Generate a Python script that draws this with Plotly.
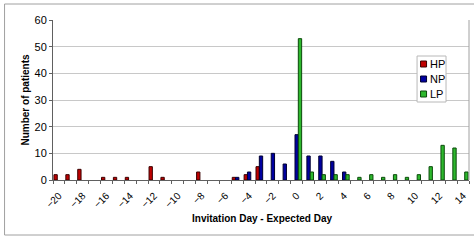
import plotly.graph_objects as go

days = list(range(-20, 15))

hp_vals = {-20: 2, -19: 2, -18: 4, -16: 1, -15: 1, -14: 1, -12: 5, -11: 1,
           -8: 3, -5: 1, -4: 2, -3: 5}
np_vals = {-5: 1, -4: 3, -3: 9, -2: 10, -1: 6, 0: 17, 1: 9, 2: 9, 3: 7, 4: 3}
lp_vals = {0: 53, 1: 3, 2: 2, 3: 2, 4: 2, 5: 1, 6: 2, 7: 1, 8: 2, 9: 1,
           10: 2, 11: 5, 12: 13, 13: 12, 14: 3}

HP = [hp_vals.get(d) for d in days]
NP = [np_vals.get(d) for d in days]
LP = [lp_vals.get(d) for d in days]

series_names = ["HP", "NP", "LP"]
fills = ["#C00000", "#0000A0", "#2DB82D"]
edges = ["#3A0000", "#000030", "#0A4A0A"]

W, H = 474, 240
L, R, T, B = 52.5, 5, 20, 60
pw = W - L - R
ph = H - T - B

def px(x):
    return (x - L) / pw

def py(y):
    return (H - B - y) / ph

fig = go.Figure()
for name, vals, f, e in zip(series_names, [HP, NP, LP], fills, edges):
    fig.add_trace(go.Bar(x=days, y=vals, name=name, marker=dict(color=f, line=dict(color=e, width=1)),
                         showlegend=False))

font = "Liberation Sans, Arial, sans-serif"

shapes = []
# outer frame
shapes.append(dict(type="rect", xref="paper", yref="paper", x0=px(4), x1=px(490), y0=py(235), y1=py(4),
                   line=dict(color="#A0A0A0", width=1)))
# plot-area right border
shapes.append(dict(type="line", xref="paper", yref="paper", x0=1, x1=1, y0=0, y1=1,
                   line=dict(color="#A0A0A0", width=1)))
# legend box
shapes.append(dict(type="rect", xref="paper", yref="paper", x0=px(417), x1=px(446), y0=py(102), y1=py(56),
                   line=dict(color="#B8B8B8", width=1), fillcolor="white"))
annotations = []
for i, (name, f, e) in enumerate(zip(series_names, fills, edges)):
    cy = 64 + 15 * i
    shapes.append(dict(type="rect", xref="paper", yref="paper", x0=px(420.5), x1=px(426.5),
                       y0=py(cy + 3), y1=py(cy - 3), fillcolor=f, line=dict(color=e, width=1)))
    annotations.append(dict(text=name, xref="paper", yref="paper", x=px(427.5), y=py(cy),
                            xanchor="left", yanchor="middle", showarrow=False,
                            font=dict(family=font, size=11, color="black")))

annotations.append(dict(text="<b>Invitation Day - Expected Day</b>", xref="paper", yref="paper",
                        x=px(262), y=py(218), xanchor="center", yanchor="middle", showarrow=False,
                        font=dict(family=font, size=10, color="black")))
annotations.append(dict(text="<b>Number of patients</b>", xref="paper", yref="paper",
                        x=px(24), y=py(100), xanchor="center", yanchor="middle", showarrow=False,
                        textangle=-90, font=dict(family=font, size=10, color="black")))

fig.update_layout(
    width=W, height=H,
    margin=dict(l=L, r=R, t=T, b=B, pad=0),
    paper_bgcolor="white", plot_bgcolor="white",
    barmode="group", bargap=0.16, bargroupgap=0,
    font=dict(family=font, size=10, color="black"),
    shapes=shapes, annotations=annotations,
    xaxis=dict(range=[-20.5, 14.5], tickmode="array", tickvals=list(range(-20, 15, 2)),
               tickangle=-45, ticks="", showgrid=False, zeroline=False,
               showline=True, linecolor="#606060", linewidth=1, ticklabelstandoff=5,
               tickfont=dict(family=font, size=10, color="black"),
               minor=dict(tick0=-20.5, dtick=1, ticks="outside", ticklen=3, tickcolor="#606060",
                          showgrid=False)),
    yaxis=dict(range=[0, 60], dtick=10, ticks="outside", ticklen=3, tickcolor="#606060",
               showgrid=True, gridcolor="#C8C8C8", gridwidth=1, zeroline=False,
               showline=True, linecolor="#606060", linewidth=1,
               tickfont=dict(family=font, size=11, color="black")),
)

fig.write_html("out.html")
